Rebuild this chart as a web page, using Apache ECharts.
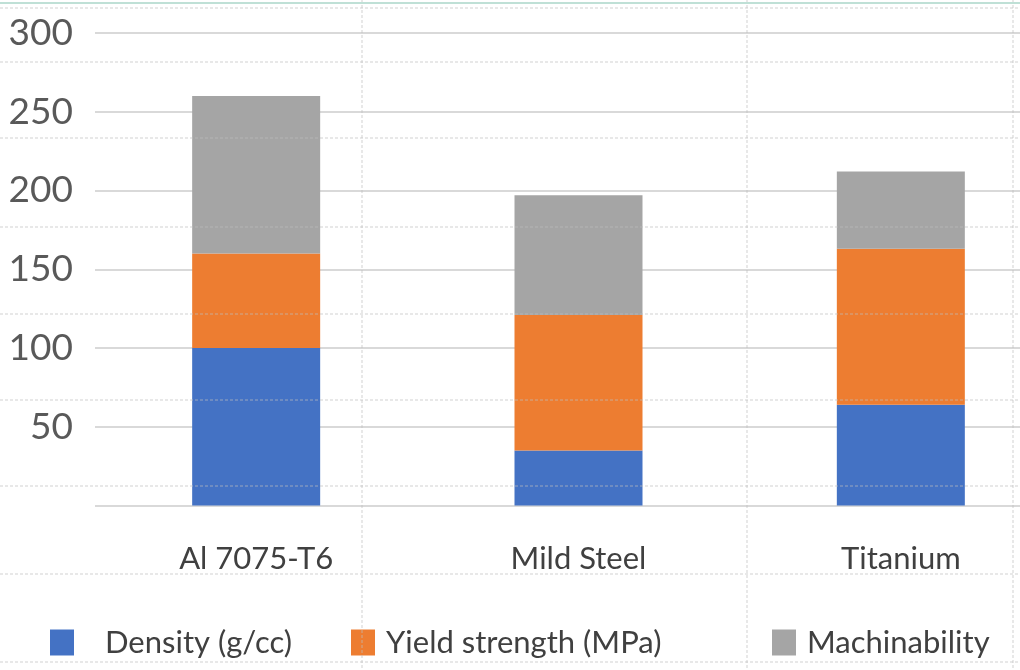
<!DOCTYPE html>
<html>
<head>
<meta charset="utf-8">
<script src="https://cdn.jsdelivr.net/npm/echarts@6/dist/echarts.min.js"></script>
<style>
html,body{margin:0;padding:0;background:#fff;}
#chart{width:1020px;height:670px;}
</style>
</head>
<body>
<div id="chart"></div>
<script>
const categories = ['Al 7075-T6', 'Mild Steel', 'Titanium'];
const density = [100, 35, 64];
const yieldStrength = [60, 86, 99];
const machinability = [100, 76, 49];
const seriesNames = ['Density (g/cc)', 'Yield strength (MPa)', 'Machinability'];
const colors = ['#4472C4', '#ED7D31', '#A5A5A5'];

const chart = echarts.init(document.getElementById('chart'));

// decorative spreadsheet cell lines from the screenshot
const cellRows = [62, 138, 227, 314, 400, 486, 574, 662];
const cellCols = [362, 747, 1013];
const deco = [];
cellRows.forEach(y => deco.push({
  type: 'line', z: 100, silent: true,
  shape: {x1: 0, y1: y, x2: 1020, y2: y},
  style: {stroke: 'rgba(190,190,190,0.7)', lineWidth: 1, lineDash: [3, 2]}
}));
cellCols.forEach(x => deco.push({
  type: 'line', z: 100, silent: true,
  shape: {x1: x, y1: 0, x2: x, y2: 670},
  style: {stroke: 'rgba(190,190,190,0.7)', lineWidth: 1, lineDash: [3, 2]}
}));
deco.push({type: 'line', z: 100, silent: true, shape: {x1: 0, y1: 3, x2: 1020, y2: 3},
  style: {stroke: '#bfe0d6', lineWidth: 2}});
deco.push({type: 'line', z: 100, silent: true, shape: {x1: 0, y1: 8, x2: 1020, y2: 8},
  style: {stroke: 'rgba(190,190,190,0.7)', lineWidth: 1, lineDash: [3, 2]}});

const legendBase = {
  top: 622, itemWidth: 24, itemHeight: 26, icon: 'rect',
  textStyle: {fontFamily: 'Lato', fontSize: 31, color: '#404040', padding: [0, 0, 0, 26]}
};

chart.setOption({
  animation: false,
  backgroundColor: '#fff',
  textStyle: {fontFamily: 'Lato'},
  grid: {left: 95, top: 33, width: 967, bottom: 164.5, containLabel: false, outerBoundsMode: 'none'},
  legend: [
    Object.assign({}, legendBase, {left: 45, data: [seriesNames[0]]}),
    Object.assign({}, legendBase, {left: 346, data: [seriesNames[1]],
      textStyle: Object.assign({}, legendBase.textStyle, {padding: [0, 0, 0, 6]})}),
    Object.assign({}, legendBase, {left: 767, data: [seriesNames[2]],
      textStyle: Object.assign({}, legendBase.textStyle, {padding: [0, 0, 0, 6]})})
  ],
  xAxis: {
    type: 'category',
    data: categories,
    axisLine: {show: false},
    axisTick: {show: false},
    axisLabel: {fontFamily: 'Lato', fontSize: 31, color: '#404040', margin: 38}
  },
  yAxis: {
    type: 'value',
    min: 0, max: 300, interval: 50,
    axisLine: {show: false},
    axisTick: {show: false},
    axisLabel: {fontFamily: 'Lato', fontSize: 37, color: '#595959', margin: 22, showMinLabel: false,
      formatter: v => v === 0 ? '' : String(v)},
    splitLine: {lineStyle: {color: '#d9d9d9', width: 2}}
  },
  series: [
    {name: seriesNames[0], type: 'bar', stack: 'total', data: density, barWidth: 128, itemStyle: {color: colors[0]}},
    {name: seriesNames[1], type: 'bar', stack: 'total', data: yieldStrength, barWidth: 128, itemStyle: {color: colors[1]}},
    {name: seriesNames[2], type: 'bar', stack: 'total', data: machinability, barWidth: 128, itemStyle: {color: colors[2]}}
  ],
  graphic: deco
});
</script>
</body>
</html>
